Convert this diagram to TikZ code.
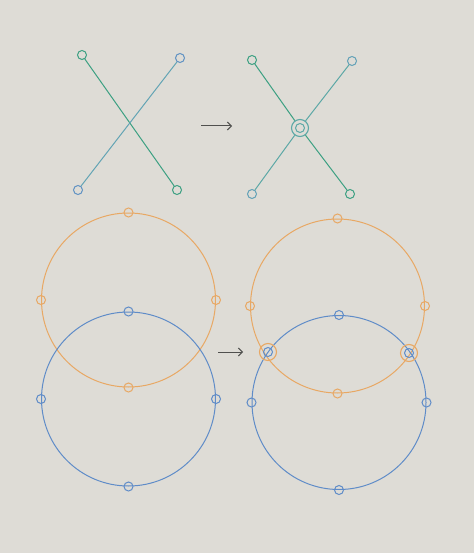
\documentclass[tikz,border=0pt]{standalone}
\usetikzlibrary{arrows.meta}
\definecolor{paper}{RGB}{222,220,214}
\definecolor{pgreen}{RGB}{60,160,130}
\definecolor{pteal}{RGB}{100,170,175}
\definecolor{pblue}{RGB}{95,140,200}
\definecolor{porange}{RGB}{232,168,100}
\definecolor{pgrey}{RGB}{80,80,78}
\tikzset{
  dot/.style={circle, draw, line width=1pt, inner sep=0pt, minimum size=9pt},
  bigdot/.style={circle, draw, line width=1.1pt, inner sep=0pt, minimum size=17pt},
  wire/.style={line width=1pt},
  bigcirc/.style={circle, draw, line width=1pt, inner sep=0pt, minimum size=174pt},
  arr/.style={line width=1pt, pgrey, -{Straight Barb[length=4pt,width=8pt]}},
}
\begin{document}
\begin{tikzpicture}[x=1pt,y=-1pt]
\fill[paper] (0,0) rectangle (474,553);
\useasboundingbox (0,0) rectangle (474,553);

% ---- top left X
\node[dot, pgreen] (a1) at (82,55) {};
\node[dot, pblue!80!pteal] (b1) at (180,58) {};
\node[dot, pblue!80!pteal] (c1) at (78,190) {};
\node[dot, pgreen] (d1) at (177,190) {};
\draw[wire, pgreen] (a1) -- (d1);
\draw[wire, pteal!80!pblue] (b1) -- (c1);

% ---- top right X
\node[dot, pgreen] (a2) at (252,60) {};
\node[dot, pteal!70!pblue] (b2) at (352,61) {};
\node[dot, pteal!70!pblue] (c2) at (252,194) {};
\node[dot, pgreen] (d2) at (350,194) {};
\node[bigdot, pteal!80!pgreen] (x2) at (300,128) {};
\node[dot, pteal!80!pgreen] (x2i) at (300,128) {};
\draw[wire, pgreen] (a2) -- (x2) (x2) -- (d2);
\draw[wire, pteal!80!pgreen] (b2) -- (x2) (x2) -- (c2);

% ---- arrows
\coordinate (p1) at (201,126);
\coordinate (q1) at (232,126);
\draw[arr] (p1) -- (q1);
\coordinate (p2) at (218,352);
\coordinate (q2) at (243,352);
\draw[arr] (p2) -- (q2);

% ---- bottom left circles
\node[bigcirc, porange] (O1) at (128.5,300) {};
\node[bigcirc, pblue] (B1) at (128.5,399) {};
\foreach \s in {north,south,east,west}{
  \node[dot, porange] (O1\s) at (O1.\s) {};
  \node[dot, pblue] (B1\s) at (B1.\s) {};
}

% ---- bottom right circles
\node[bigcirc, porange] (O2) at (337.5,306) {};
\node[bigcirc, pblue] (B2) at (339,402.5) {};
\foreach \s in {north,south,east,west}{
  \node[dot, porange] (O2\s) at (O2.\s) {};
  \node[dot, pblue] (B2\s) at (B2.\s) {};
}
\node[bigdot, porange] (I1) at (268,352) {};
\node[dot, pblue] (I1i) at (268,352) {};
\node[bigdot, porange] (I2) at (409,353) {};
\node[dot, pblue] (I2i) at (409,353) {};
\end{tikzpicture}
\end{document}
